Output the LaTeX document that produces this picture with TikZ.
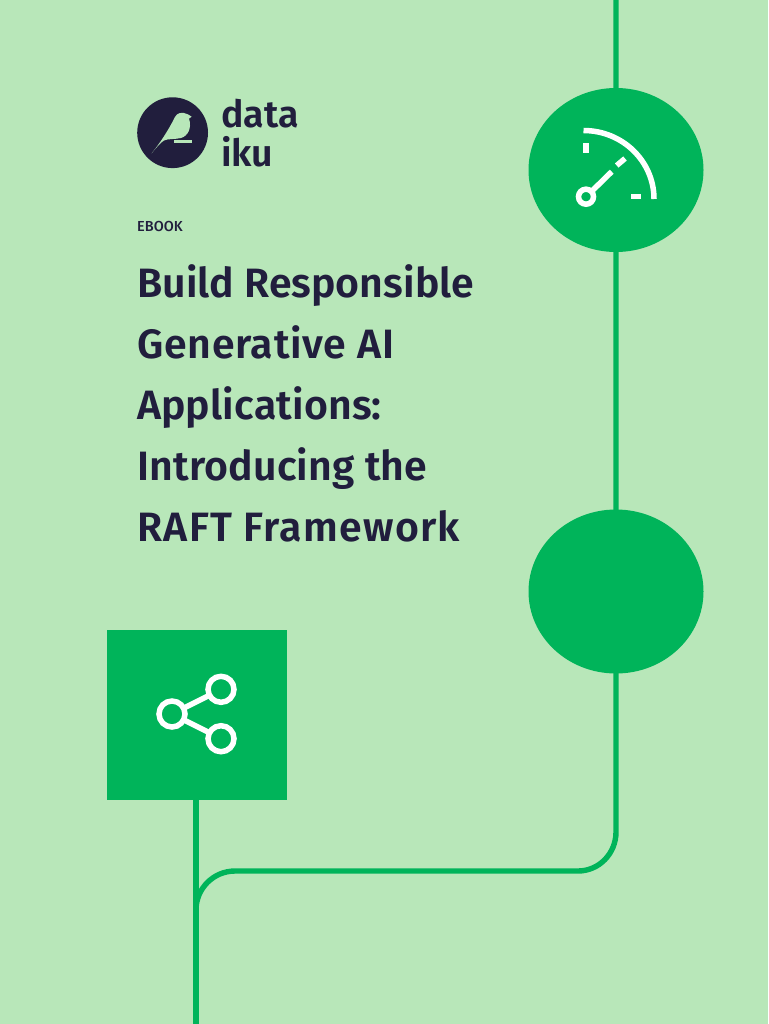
\documentclass[tikz,border=0pt]{standalone}
\usepackage{fontspec}
\setmainfont{Fira Sans}
\newfontfamily\ttlfont{Fira Sans SemiBold}
\newfontfamily\logofont{Fira Sans Medium}
\definecolor{bg}{HTML}{B8E7B9}
\definecolor{grn}{HTML}{00B45A}
\definecolor{ink}{HTML}{211E3D}
\tikzset{
 rail/.style={draw=grn,line width=5.4pt},
 icon/.style={draw=white,line width=5.5pt},
 ttl/.style={anchor=base west,inner sep=0pt,text=ink,font=\ttlfont\fontsize{41}{41}\selectfont},
 logo/.style={anchor=base west,inner sep=0pt,text=ink,font=\ttlfont\fontsize{37.5}{37.5}\selectfont},
}
\begin{document}
\begin{tikzpicture}[x=1pt,y=-1pt]
\useasboundingbox (0,0) rectangle (768,1024);
\fill[bg] (0,0) rectangle (768,1024);
% rails
\coordinate (top) at (616,0);
\coordinate (bot) at (196,1024);
\draw[rail] (top) -- (616,832) arc[start angle=0,end angle=90,x radius=38,y radius=39] -- (235,871) arc[start angle=270,end angle=180,x radius=39,y radius=39];
\draw[rail] (196,800) -- (bot);
% shapes
\fill[grn] (616,170) ellipse[x radius=87.5,y radius=82];
\fill[grn] (616,591.5) ellipse[x radius=87.5,y radius=82];
\fill[grn] (107,630) rectangle (287,800);
% gauge icon
\draw[icon,line cap=butt] (583.5,130.5) arc[start angle=-90,end angle=0,x radius=70.5,y radius=68.5];
\fill[white] (583.3,142.7) rectangle (589.3,153.3);
\fill[white] (631,194) rectangle (641,199.3);
\draw[icon] (586,196.7) circle[radius=7.5];
\draw[icon] (592.5,190.5) -- (611.7,171.7);
\draw[icon] (616.7,165.5) -- (625,158.5);
% share icon
\draw[icon] (221,689.3) circle[radius=13];
\draw[icon] (172,714) circle[radius=13];
\draw[icon] (221,738.7) circle[radius=13];
\draw[icon] (184,708) -- (209,695.5);
\draw[icon] (184,720) -- (209,732.5);
% logo
\fill[ink] (172.6,132.7) circle[radius=35.4];
\fill[bg] (151.7,153.3) .. controls (160,143) and (168,131) .. (175,117) .. controls (177,113) and (181,112.5) .. (184,113) .. controls (187,113.5) and (189,115) .. (191.7,116.7) -- (189,118.5) .. controls (192,128) and (188,136) .. (181,138) .. controls (175,139.5) and (168,138.5) .. (164,140.5) .. controls (160,143) and (156,148) .. (151.7,153.3) -- cycle;
\fill[bg] (174.3,140) rectangle (191.7,142.6);
\node[logo] (data) at (221,128) {data};
\node[logo] (iku) at (221,167) {iku};
% text
\node[anchor=base west,inner sep=0pt,text=ink,font=\logofont\fontsize{14.5}{14.5}\selectfont] (ebook) at (137,232) {EBOOK};
\node[ttl] (t1) at (137,297.5) {\addfontfeature{LetterSpace=0.2}Build Responsible};
\node[ttl] (t2) at (137,358.5) {\addfontfeature{LetterSpace=1.8}Generative AI};
\node[ttl] (t3) at (137,419.5) {\addfontfeature{LetterSpace=0.4}Applications:};
\node[ttl] (t4) at (137,480.5) {\addfontfeature{LetterSpace=0.5}Introducing the};
\node[ttl] (t5) at (137,541.5) {\addfontfeature{LetterSpace=3.2}RAFT Framework};
\end{tikzpicture}
\end{document}
